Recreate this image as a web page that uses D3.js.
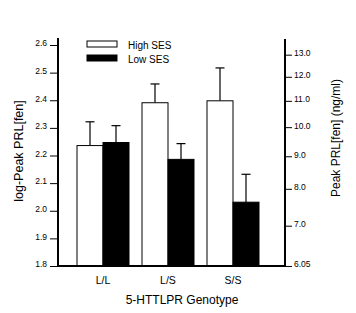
<!DOCTYPE html>
<html>
<head>
<meta charset="utf-8">
<script src="https://cdn.jsdelivr.net/npm/d3@7"></script>
<style>
  body { margin: 0; background: #fff; }
  svg text { font-family: "Liberation Sans", Arial, Helvetica, sans-serif; fill: #000; }
</style>
</head>
<body>
<svg width="356" height="313"></svg>
<script>
// genotype groups and the two SES series (log-peak PRL, mean and mean+SE)
var genotypes = ["L/L", "L/S", "S/S"];
var series = ["High SES", "Low SES"];
var highMean = [2.236, 2.391, 2.398];
var highErr = [2.322, 2.459, 2.517];
var lowMean = [2.247, 2.186, 2.031];
var lowErr = [2.308, 2.243, 2.132];
var leftTicks = [1.8, 1.9, 2.0, 2.1, 2.2, 2.3, 2.4, 2.5, 2.6];
var rightTicks = [6.05, 7.0, 8.0, 9.0, 10.0, 11.0, 12.0, 13.0];

var svg = d3.select("svg");
var plotLeft = 58, plotRight = 285, plotBottom = 266, plotTop = 45;

var y = d3.scaleLinear().domain([1.8, 2.6]).range([plotBottom, plotTop]);
var x = d3.scaleBand().domain(genotypes).range([70.5, 265.5])
    .paddingInner(0.2).paddingOuter(0.1);
var xs = d3.scaleBand().domain(series).range([0, x.bandwidth()]);

var rows = [];
genotypes.forEach(function(g, i) {
    rows.push({g: g, s: "High SES", v: highMean[i], e: highErr[i]});
    rows.push({g: g, s: "Low SES", v: lowMean[i], e: lowErr[i]});
});
var fill = d3.scaleOrdinal().domain(series).range(["#fff", "#000"]);

function cx(d) { return x(d.g) + xs(d.s) + xs.bandwidth() / 2; }

// error bars first (behind the bars)
var eb = svg.append("g");
eb.selectAll("line.v").data(rows).enter().append("line")
    .attr("x1", cx).attr("x2", cx)
    .attr("y1", function(d) { return y(d.v); })
    .attr("y2", function(d) { return y(d.e); })
    .attr("stroke", "#000").attr("stroke-width", 1.2);
eb.selectAll("line.c").data(rows).enter().append("line")
    .attr("x1", function(d) { return cx(d) - 4.5; })
    .attr("x2", function(d) { return cx(d) + 4.5; })
    .attr("y1", function(d) { return y(d.e); })
    .attr("y2", function(d) { return y(d.e); })
    .attr("stroke", "#000").attr("stroke-width", 1.2);

svg.append("g").selectAll("rect").data(rows).enter().append("rect")
    .attr("x", function(d) { return x(d.g) + xs(d.s); })
    .attr("y", function(d) { return y(d.v); })
    .attr("width", xs.bandwidth())
    .attr("height", function(d) { return plotBottom - y(d.v); })
    .attr("fill", function(d) { return fill(d.s); })
    .attr("stroke", "#000").attr("stroke-width", 1);

// left axis
var la = svg.append("g").attr("transform", "translate(" + plotLeft + ",0)")
    .call(d3.axisLeft(y).tickValues(leftTicks).tickFormat(d3.format(".1f"))
        .tickSize(8).tickPadding(3));
la.select(".domain").remove();
la.selectAll("text").attr("font-size", 8.5).attr("dy", "0.1em");

// right axis, log PRL -> PRL ng/ml (natural log)
var ra = svg.append("g").attr("transform", "translate(" + plotRight + ",0)")
    .call(d3.axisRight(y).tickValues(rightTicks.map(function(v) { return Math.log(v); }))
        .tickFormat(function(d, i) { return rightTicks[i] === 6.05 ? "6.05" : d3.format(".1f")(rightTicks[i]); })
        .tickSize(7).tickPadding(2));
ra.select(".domain").remove();
ra.selectAll("text").attr("font-size", 8.5).attr("dy", "0.1em");

// frame lines
svg.append("line").attr("x1", plotLeft).attr("x2", plotLeft).attr("y1", 38).attr("y2", plotBottom + 1)
    .attr("stroke", "#000").attr("stroke-width", 2);
svg.append("line").attr("x1", plotRight).attr("x2", plotRight).attr("y1", 39).attr("y2", plotBottom + 1)
    .attr("stroke", "#000").attr("stroke-width", 2);
svg.append("line").attr("x1", plotLeft - 1).attr("x2", plotRight + 1).attr("y1", plotBottom).attr("y2", plotBottom)
    .attr("stroke", "#000").attr("stroke-width", 2);

// category labels
svg.append("g").selectAll("text").data(genotypes).enter().append("text")
    .attr("x", function(d) { return x(d) + x.bandwidth() / 2; })
    .attr("y", 284)
    .attr("text-anchor", "middle").attr("font-size", 10.5)
    .text(function(d) { return d; });

svg.append("text").attr("x", 182).attr("y", 304).attr("text-anchor", "middle")
    .attr("font-size", 12).text("5-HTTLPR Genotype");
svg.append("text").attr("transform", "translate(23,151) rotate(-90)")
    .attr("text-anchor", "middle").attr("font-size", 12.5).text("log-Peak PRL[fen]");
svg.append("text").attr("transform", "translate(340,138) rotate(-90)")
    .attr("text-anchor", "middle").attr("font-size", 12).text("Peak PRL[fen] (ng/ml)");

// legend
var lg = svg.append("g").selectAll("g").data(series).enter().append("g")
    .attr("transform", function(d, i) { return "translate(87," + (41 + i * 14) + ")"; });
lg.append("rect").attr("width", 30).attr("height", 6)
    .attr("fill", function(d) { return fill(d); }).attr("stroke", "#000");
lg.append("text").attr("x", 41).attr("y", 7.5).attr("font-size", 10)
    .text(function(d) { return d; });
</script>
</body>
</html>
